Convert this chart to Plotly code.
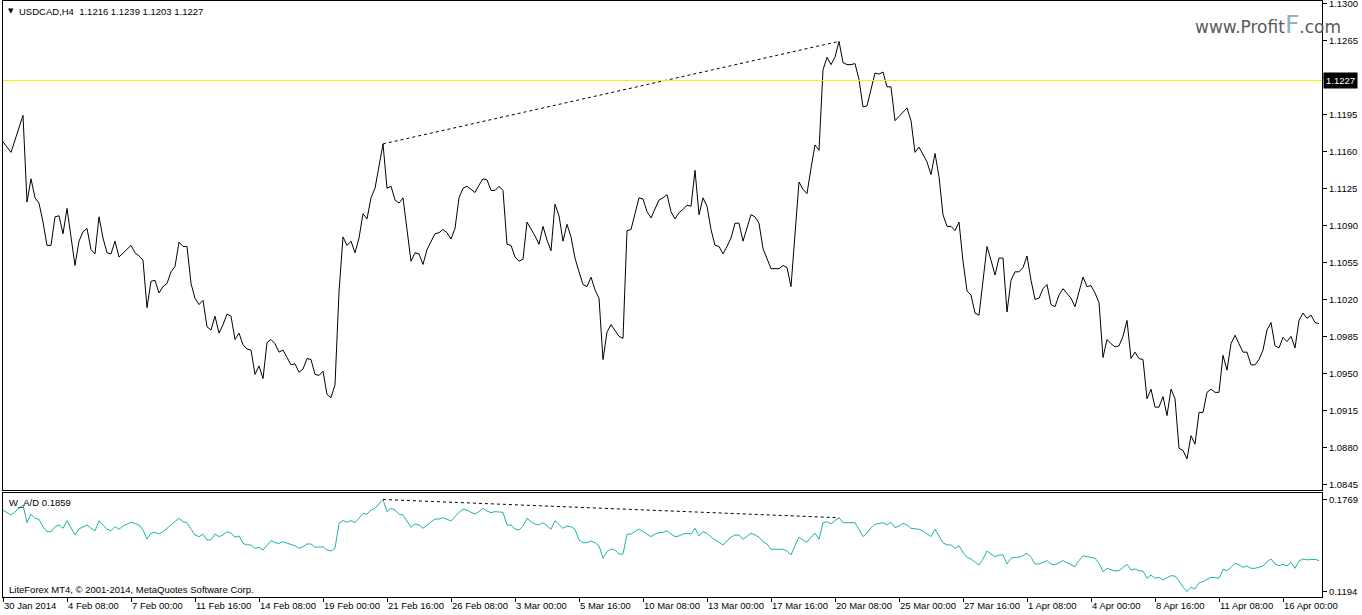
import plotly.graph_objects as go

# ---------------- data ----------------
price_bar = [0,2,5,6,7,8,9,10,11,12,13,14,15,16,17,18,19,20,21,22,23,24,25,26,27,28,29,31,32,33,34,35,36,37,38,39,40,41,42,43,44,45,46,47,48,49,50,51,52,53,54,55,56,57,58,59,60,61,62,63,64,65,66,67,68,69,70,71,72,73,74,75,76,77,78,79,80,81,82,83,84,85,86,87,88,89,90,91,92,93,95,96,97,98,99,100,101,102,103,104,105,106,108,109,110,111,112,113,114,115,116,117,118,119,120,121,122,123,124,125,126,127,128,129,130,131,132,133,134,135,136,137,138,139,140,141,142,143,144,145,146,147,148,149,150,151,152,153,154,155,156,157,158,159,160,161,162,163,164,165,166,167,168,169,170,171,172,173,174,175,176,177,178,179,180,181,182,183,184,185,186,187,188,189,190,191,192,193,194,195,196,197,198,199,200,201,202,203,204,205,206,207,208,209,210,211,212,213,214,215,216,217,218,219,220,221,222,223,224,225,226,227,228,229,230,231,232,233,234,235,236,237,238,239,240,241,242,243,244,245,246,247,248,249,250,251,252,253,254,255,256,257,258,259,260,261,262,263,264,265,266,267,268,269,270,271,272,273,274,275,276,277,278,279,280,281,282,283,284,285,286,287,288,289,290,291,292,293,294,295,296,297,298,299,300,301,302,303,304,305,306,307,308,309,310,311,312,313,314,315,316,317,318,319,320,321,322,323,324,325,326,327,328,329]
price_close = [1.1169,1.1159,1.1194,1.1112,1.1134,1.1116,1.1111,1.1093,1.1071,1.1071,1.1098,1.1099,1.1082,1.1106,1.1079,1.1052,1.1075,1.1084,1.1087,1.1067,1.1063,1.1098,1.1078,1.1064,1.1063,1.1075,1.1060,1.1067,1.1071,1.1064,1.1061,1.1057,1.1012,1.1037,1.1038,1.1026,1.1032,1.1035,1.1046,1.1051,1.1074,1.1070,1.1070,1.1035,1.1021,1.1015,1.1019,1.0994,1.0991,1.1004,1.0988,1.0996,1.1006,1.1004,1.0982,1.0988,1.0977,1.0973,1.0972,1.0949,1.0957,1.0945,1.0979,1.0982,1.0978,1.0970,1.0972,1.0965,1.0958,1.0959,1.0951,1.0954,1.0964,1.0963,1.0949,1.0948,1.0952,1.0930,1.0927,1.0939,1.1027,1.1079,1.1071,1.1075,1.1064,1.1078,1.1101,1.1096,1.1116,1.1125,1.1167,1.1125,1.1127,1.1114,1.1111,1.1116,1.1087,1.1056,1.1064,1.1063,1.1053,1.1067,1.1082,1.1083,1.1086,1.1083,1.1077,1.1087,1.1116,1.1125,1.1127,1.1124,1.1121,1.1128,1.1134,1.1133,1.1123,1.1123,1.1127,1.1123,1.1072,1.1071,1.1060,1.1056,1.1058,1.1093,1.1087,1.1080,1.1072,1.1089,1.1076,1.1066,1.1110,1.1099,1.1075,1.1091,1.1079,1.1059,1.1046,1.1034,1.1032,1.1041,1.1029,1.1021,1.0963,1.0989,1.0996,1.0990,1.0985,1.0983,1.1085,1.1086,1.1101,1.1116,1.1115,1.1103,1.1097,1.1105,1.1114,1.1116,1.1119,1.1103,1.1096,1.1102,1.1105,1.1109,1.1108,1.1142,1.1100,1.1116,1.1108,1.1086,1.1071,1.1070,1.1063,1.1070,1.1078,1.1092,1.1092,1.1075,1.1088,1.1100,1.1098,1.1092,1.1068,1.1059,1.1049,1.1049,1.1049,1.1052,1.1050,1.1032,1.1086,1.1131,1.1124,1.1120,1.1144,1.1166,1.1161,1.1237,1.1249,1.1242,1.1249,1.1264,1.1244,1.1242,1.1242,1.1243,1.1228,1.1202,1.1203,1.1220,1.1234,1.1233,1.1235,1.1221,1.1221,1.1189,1.1193,1.1197,1.1201,1.1189,1.1159,1.1164,1.1157,1.1150,1.1138,1.1158,1.1136,1.1100,1.1089,1.1089,1.1085,1.1093,1.1056,1.1028,1.1024,1.1007,1.1005,1.1040,1.1070,1.1057,1.1043,1.1059,1.1059,1.1008,1.1038,1.1046,1.1046,1.1050,1.1061,1.1038,1.1020,1.1021,1.1030,1.1034,1.1015,1.1013,1.1024,1.1030,1.1026,1.1021,1.1013,1.1028,1.1041,1.1032,1.1033,1.1026,1.1017,1.0965,1.0982,1.0978,1.0975,1.0976,1.0985,1.1000,1.0964,1.0970,1.0964,1.0963,1.0926,1.0935,1.0918,1.0918,1.0928,1.0910,1.0935,1.0926,1.0879,1.0877,1.0869,1.0891,1.0883,1.0913,1.0913,1.0932,1.0935,1.0932,1.0932,1.0967,1.0953,1.0978,1.0986,1.0978,1.0970,1.0970,1.0958,1.0958,1.0963,1.0972,1.0991,1.0998,1.0976,1.0974,1.0984,1.0980,1.0985,1.0974,1.1000,1.1007,1.1002,1.1005,1.0998,1.0997]

ad_bar = [0,2,4,5,6,7,8,9,10,11,12,13,14,15,16,17,18,19,20,21,22,23,24,25,26,27,28,29,30,32,33,34,35,36,37,38,39,40,41,42,44,45,46,47,48,49,50,51,52,53,54,55,56,57,58,59,60,61,62,63,64,65,66,67,68,69,70,71,72,73,74,75,76,77,78,79,80,81,82,83,84,85,86,87,88,89,90,91,92,93,94,95,96,97,98,99,100,101,102,103,104,105,106,107,108,109,110,111,112,113,114,115,116,117,118,119,120,121,122,123,124,125,126,127,128,129,130,131,132,133,134,135,136,137,138,139,140,141,142,143,144,145,146,147,148,149,150,151,152,153,154,155,156,157,158,159,160,161,162,163,164,165,166,167,168,169,170,171,172,173,174,175,176,177,178,179,180,181,182,183,184,185,186,187,188,189,190,191,192,193,194,195,196,197,198,199,200,201,202,203,204,205,206,207,208,209,210,211,212,213,214,215,216,217,218,219,220,221,222,223,224,225,226,227,229,230,231,232,233,234,235,236,237,238,239,240,241,242,243,244,245,246,247,248,249,250,251,252,253,254,255,256,257,258,259,260,261,262,263,264,265,266,267,268,269,270,271,272,273,274,275,276,277,278,279,280,281,282,283,284,285,286,287,288,289,290,291,292,293,294,295,296,297,298,299,300,301,302,303,304,305,306,307,308,309,310,311,312,313,314,315,316,317,318,319,320,321,322,323,324,325,326,327,328,329]
ad_value = [0.1703,0.1672,0.1714,0.1735,0.1624,0.1677,0.1652,0.1645,0.1599,0.1568,0.1568,0.1599,0.1610,0.1589,0.1637,0.1589,0.1547,0.1585,0.1599,0.1610,0.1589,0.1572,0.1637,0.1610,0.1583,0.1574,0.1599,0.1583,0.1603,0.1627,0.1616,0.1610,0.1578,0.1522,0.1558,0.1564,0.1553,0.1568,0.1589,0.1610,0.1652,0.1630,0.1624,0.1583,0.1547,0.1537,0.1552,0.1516,0.1516,0.1553,0.1537,0.1547,0.1568,0.1558,0.1534,0.1541,0.1495,0.1485,0.1485,0.1464,0.1470,0.1453,0.1485,0.1512,0.1499,0.1495,0.1505,0.1495,0.1485,0.1480,0.1464,0.1474,0.1491,0.1491,0.1470,0.1470,0.1474,0.1453,0.1447,0.1464,0.1620,0.1637,0.1627,0.1637,0.1624,0.1652,0.1683,0.1677,0.1703,0.1714,0.1741,0.1769,0.1693,0.1714,0.1703,0.1677,0.1672,0.1630,0.1595,0.1616,0.1610,0.1589,0.1610,0.1630,0.1647,0.1647,0.1655,0.1645,0.1635,0.1662,0.1689,0.1708,0.1703,0.1689,0.1678,0.1693,0.1714,0.1697,0.1687,0.1693,0.1693,0.1689,0.1610,0.1610,0.1585,0.1578,0.1603,0.1652,0.1630,0.1616,0.1610,0.1624,0.1605,0.1583,0.1637,0.1610,0.1589,0.1603,0.1599,0.1583,0.1516,0.1499,0.1499,0.1510,0.1499,0.1480,0.1402,0.1443,0.1460,0.1453,0.1428,0.1428,0.1552,0.1553,0.1568,0.1585,0.1568,0.1553,0.1537,0.1553,0.1562,0.1564,0.1574,0.1553,0.1537,0.1541,0.1553,0.1558,0.1553,0.1589,0.1541,0.1568,0.1558,0.1534,0.1516,0.1499,0.1485,0.1510,0.1534,0.1547,0.1547,0.1520,0.1537,0.1558,0.1547,0.1534,0.1505,0.1491,0.1458,0.1458,0.1458,0.1458,0.1447,0.1422,0.1480,0.1534,0.1516,0.1502,0.1534,0.1558,0.1520,0.1624,0.1630,0.1616,0.1637,0.1655,0.1624,0.1624,0.1624,0.1624,0.1583,0.1537,0.1558,0.1593,0.1614,0.1620,0.1624,0.1610,0.1627,0.1593,0.1603,0.1620,0.1610,0.1589,0.1583,0.1572,0.1553,0.1537,0.1583,0.1537,0.1499,0.1485,0.1485,0.1464,0.1480,0.1439,0.1408,0.1397,0.1380,0.1360,0.1397,0.1447,0.1428,0.1412,0.1422,0.1422,0.1366,0.1402,0.1408,0.1408,0.1418,0.1433,0.1408,0.1366,0.1366,0.1377,0.1387,0.1366,0.1360,0.1374,0.1387,0.1374,0.1364,0.1349,0.1387,0.1418,0.1412,0.1408,0.1402,0.1370,0.1318,0.1339,0.1328,0.1322,0.1324,0.1345,0.1364,0.1328,0.1335,0.1324,0.1322,0.1277,0.1297,0.1277,0.1283,0.1266,0.1281,0.1293,0.1291,0.1260,0.1221,0.1194,0.1221,0.1209,0.1249,0.1255,0.1270,0.1283,0.1281,0.1277,0.1333,0.1324,0.1345,0.1370,0.1360,0.1345,0.1353,0.1339,0.1339,0.1345,0.1353,0.1380,0.1397,0.1366,0.1355,0.1364,0.1353,0.1377,0.1339,0.1385,0.1397,0.1392,0.1392,0.1395,0.1387]

tick_bars = [0,16,32,48,64,80,96,112,128,144,160,176,192,208,224,240,256,272,288,304,320]
tick_labels = ["30 Jan 2014","4 Feb 08:00","7 Feb 00:00","11 Feb 16:00","14 Feb 08:00","19 Feb 00:00",
               "21 Feb 16:00","26 Feb 08:00","3 Mar 00:00","5 Mar 16:00","10 Mar 08:00","13 Mar 00:00",
               "17 Mar 16:00","20 Mar 08:00","25 Mar 00:00","27 Mar 16:00","1 Apr 08:00","4 Apr 00:00",
               "8 Apr 16:00","11 Apr 08:00","16 Apr 00:00"]
price_ticks = [1.0845,1.0880,1.0915,1.0950,1.0985,1.1020,1.1055,1.1090,1.1125,1.1160,1.1195,1.1230,1.1265,1.1300]
ad_ticks = [0.1769, 0.1194]
bid_price = 1.1227
header = "USDCAD,H4  1.1216 1.1239 1.1203 1.1227"
ad_header = "W_A/D 0.1859"
trend_bars = [95, 209]   # trend line anchors (peaks)

# ---------------- figure ----------------
FONT = "Liberation Sans, DejaVu Sans, Arial, sans-serif"
W, H = 1362, 615
ML, MR, MT, MB = 3, 40, 1, 18
plot_h = H - MT - MB

def py(px):  # pixel y -> paper fraction
    return (H - MB - px) / plot_h

def px_(x):  # pixel x -> paper fraction
    return (x - ML) / (W - ML - MR)

fig = go.Figure()

fig.add_trace(go.Scatter(x=price_bar, y=price_close, mode="lines",
                         line=dict(color="black", width=1), xaxis="x2", yaxis="y2",
                         hoverinfo="skip", showlegend=False))
pt = [price_close[price_bar.index(b)] for b in trend_bars]
fig.add_trace(go.Scatter(x=trend_bars, y=pt, mode="lines",
                         line=dict(color="black", width=1, dash="dot"), xaxis="x2", yaxis="y2",
                         hoverinfo="skip", showlegend=False))

fig.add_trace(go.Scatter(x=ad_bar, y=ad_value, mode="lines",
                         line=dict(color="#20b2aa", width=1), xaxis="x", yaxis="y",
                         hoverinfo="skip", showlegend=False))
at = [ad_value[ad_bar.index(b)] for b in trend_bars]
fig.add_trace(go.Scatter(x=trend_bars, y=at, mode="lines",
                         line=dict(color="black", width=1, dash="dot"), xaxis="x", yaxis="y",
                         hoverinfo="skip", showlegend=False))

xr = [0, (W - ML - MR) / 4.0]
main_bottom = py(490)
ind_top = py(493)
TF = dict(family=FONT, size=9.5, color="black")
price_ticktext = ["" if abs(v - 1.1230) < 1e-9 else f"{v:.4f}" for v in price_ticks]

fig.update_layout(
    width=W, height=H,
    margin=dict(l=ML, r=MR, t=MT, b=MB, autoexpand=False),
    paper_bgcolor="white", plot_bgcolor="white",
    font=dict(family=FONT, size=10, color="black"),
    xaxis=dict(domain=[0, 1], range=xr, anchor="y", automargin=False,
               tickvals=tick_bars, ticktext=tick_labels, tickangle=0,
               ticks="outside", ticklen=4, tickcolor="black",
               ticklabelposition="outside right",
               showline=True, linecolor="black", linewidth=1, mirror=True,
               showgrid=False, zeroline=False, tickfont=TF),
    yaxis=dict(domain=[0, ind_top], anchor="x", side="right", automargin=False,
               range=[0.11596, 0.18096],
               tickvals=ad_ticks, tickformat=".4f",
               ticks="outside", ticklen=4, tickcolor="black",
               showline=True, linecolor="black", linewidth=1, mirror=True,
               showgrid=False, zeroline=False, tickfont=TF),
    xaxis2=dict(domain=[0, 1], range=xr, anchor="y2", matches="x", automargin=False,
                showticklabels=False, ticks="",
                showline=True, linecolor="black", linewidth=1, mirror=True,
                showgrid=False, zeroline=False),
    yaxis2=dict(domain=[main_bottom, 1], anchor="x2", side="right", automargin=False,
                range=[1.08396, 1.13022],
                tickvals=price_ticks, ticktext=price_ticktext,
                ticks="outside", ticklen=4, tickcolor="black",
                ticklabeloverflow="allow",
                showline=True, linecolor="black", linewidth=1, mirror=True,
                showgrid=False, zeroline=False, tickfont=TF),
)

# bid line
fig.add_shape(type="line", xref="x2 domain", yref="y2", x0=0, x1=1, y0=bid_price, y1=bid_price,
              line=dict(color="#f2f200", width=1))

annotations = [
    dict(xref="paper", yref="y2", x=1, y=bid_price, xanchor="left", yanchor="middle",
         text=f"{bid_price:.4f}", showarrow=False, bgcolor="black", borderpad=2,
         font=dict(family=FONT, size=9.5, color="white"), xshift=1),
    dict(xref="paper", yref="paper", x=px_(6), y=py(11), xanchor="left", yanchor="middle",
         text="\u25bc", showarrow=False, font=dict(family="DejaVu Sans", size=7, color="black")),
    dict(xref="paper", yref="paper", x=px_(17), y=py(11), xanchor="left", yanchor="middle",
         text=header, showarrow=False, font=dict(family=FONT, size=9.5, color="black")),
    dict(xref="paper", yref="paper", x=px_(1343), y=py(24), xanchor="right", yanchor="middle",
         text="www.Profit<span style='font-size:25px;color:#8fb3bc'>F</span>.com", showarrow=False,
         font=dict(family="DejaVu Sans, sans-serif", size=17, color="#5a5a5a")),
    dict(xref="paper", yref="paper", x=px_(7), y=py(502), xanchor="left", yanchor="middle",
         text=ad_header, showarrow=False, font=dict(family=FONT, size=9.5, color="black")),
    dict(xref="paper", yref="paper", x=px_(7), y=py(589), xanchor="left", yanchor="middle",
         text="LiteForex MT4, \u00a9 2001-2014, MetaQuotes Software Corp.", showarrow=False,
         font=dict(family=FONT, size=9.5, color="black")),
]
fig.update_layout(annotations=annotations)

fig.write_html("out.html", config={"displayModeBar": False},
               post_script="document.body.style.margin='0';document.body.style.overflow='hidden';")
